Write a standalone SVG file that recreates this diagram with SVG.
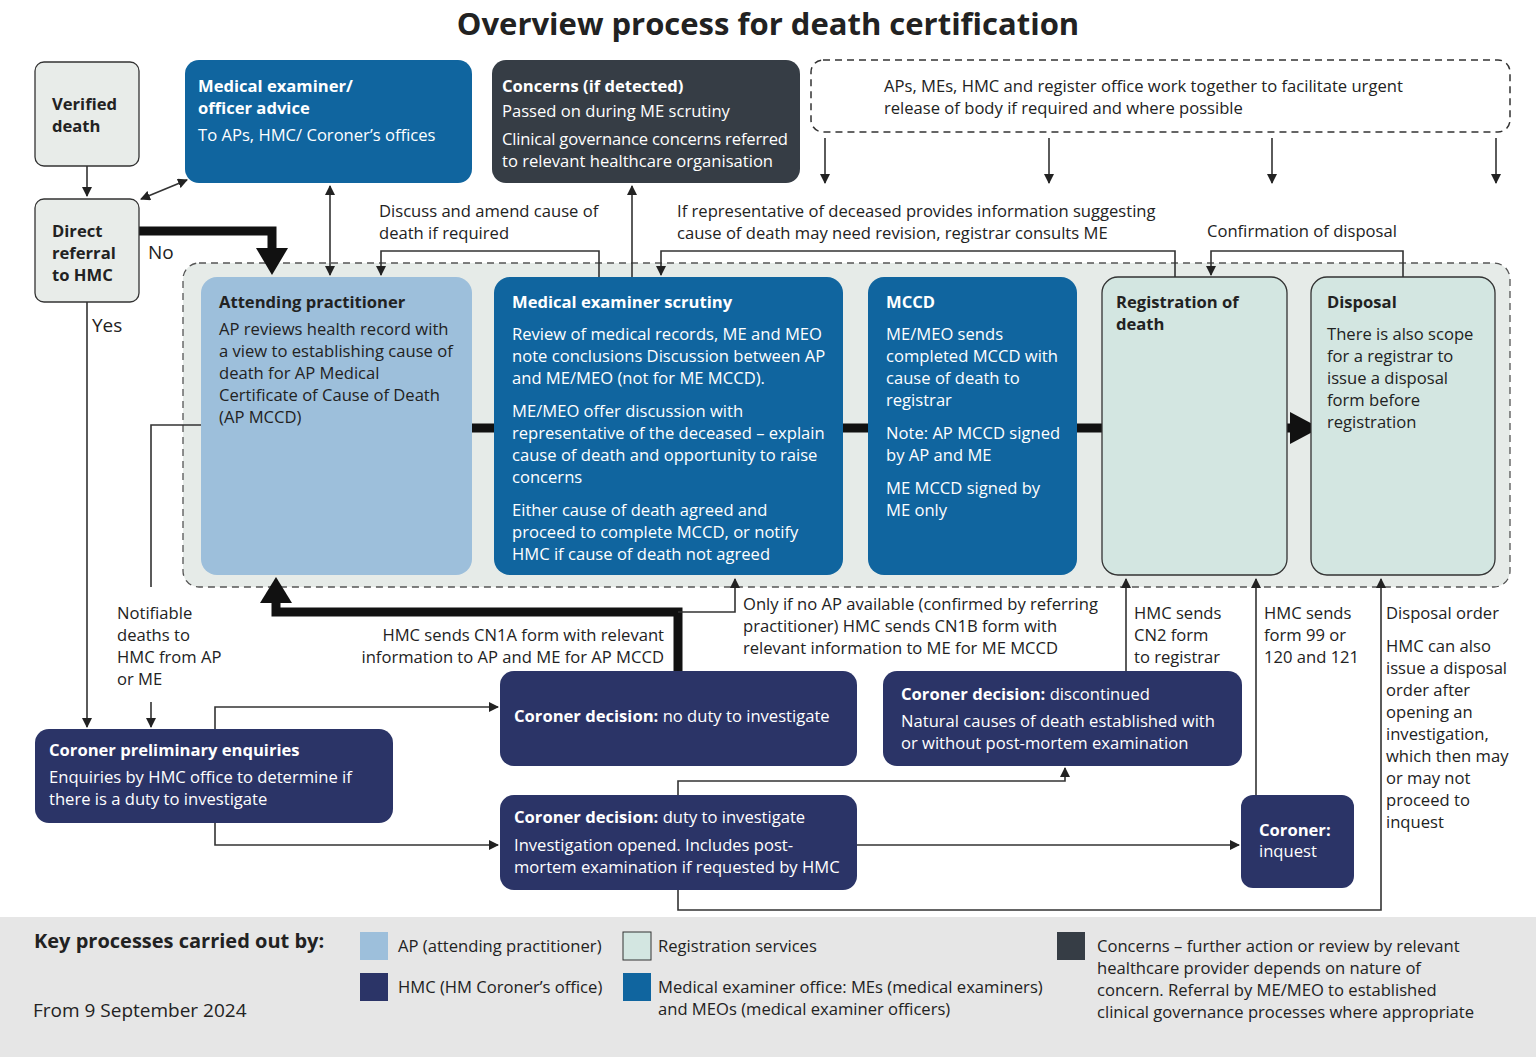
<svg xmlns="http://www.w3.org/2000/svg" width="1536" height="1057" viewBox="0 0 1536 1057">
<style>
text{font-family:"Open Sans","Liberation Sans",sans-serif;font-size:16.6px;fill:#222}
.b{font-weight:bold}
.w{fill:#fff}
.ln{fill:none;stroke:#333;stroke-width:1.6}
.tk{fill:none;stroke:#111;stroke-width:9}
</style>
<defs>
<marker id="a" markerWidth="10" markerHeight="10" refX="9" refY="5" orient="auto" markerUnits="userSpaceOnUse"><path d="M0,0L10,5L0,10z" fill="#222"/></marker>
<marker id="as" markerWidth="10" markerHeight="10" refX="1" refY="5" orient="auto" markerUnits="userSpaceOnUse"><path d="M10,0L0,5L10,10z" fill="#222"/></marker>
</defs>
<rect width="1536" height="1057" fill="#fff"/>
<text x="768" y="35" text-anchor="middle" class="b" style="font-size:31px">Overview process for death certification</text>
<rect x="183" y="263" width="1327" height="324" rx="16" fill="#e6ebe8" stroke="#555" stroke-width="1.3" stroke-dasharray="7 5"/>
<g id="connectors">
<path class="ln" d="M87,166V196" marker-end="url(#a)"/>
<path class="ln" d="M141,199L187,180" marker-end="url(#a)" marker-start="url(#as)"/>
<path class="ln" d="M330,186V275" marker-end="url(#a)" marker-start="url(#as)"/>
<path class="ln" d="M632,277V186" marker-end="url(#a)"/>
<path class="ln" d="M599,277V251H381V275" marker-end="url(#a)"/>
<path class="ln" d="M1175,277V251H661V275" marker-end="url(#a)"/>
<path class="ln" d="M1403,277V251H1211V275" marker-end="url(#a)"/>
<path class="ln" d="M825,138V183" marker-end="url(#a)"/>
<path class="ln" d="M1049,138V183" marker-end="url(#a)"/>
<path class="ln" d="M1272,138V183" marker-end="url(#a)"/>
<path class="ln" d="M1496,138V183" marker-end="url(#a)"/>
<path class="tk" d="M139,231H272V250"/>
<path d="M256,248H288L272,275z" fill="#111"/>
<path class="ln" d="M87,302V727" marker-end="url(#a)"/>
<path class="ln" d="M201,425H151V587"/>
<path class="ln" d="M151,702V727" marker-end="url(#a)"/>
<path class="tk" d="M678,671V612H276V600"/>
<path d="M260,603H292L276,577z" fill="#111"/>
<path class="ln" d="M678,612H735V579" marker-end="url(#a)"/>
<path class="tk" d="M472,428H494M843,428H868M1077,428H1102M1287,428H1292"/>
<path d="M1290,412L1320,428L1290,444z" fill="#111"/>
<path class="ln" d="M215,729V707H498" marker-end="url(#a)"/>
<path class="ln" d="M215,823V845H498" marker-end="url(#a)"/>
<path class="ln" d="M857,845H1239" marker-end="url(#a)"/>
<path class="ln" d="M678,795V781H1065V768" marker-end="url(#a)"/>
<path class="ln" d="M678,890V910H1381V579" marker-end="url(#a)"/>
<path class="ln" d="M1126,671V579" marker-end="url(#a)"/>
<path class="ln" d="M1256,795V579" marker-end="url(#a)"/>
</g>
<g id="labels">
<text x="379" y="217">Discuss and amend cause of</text><text x="379" y="239">death if required</text>
<text x="677" y="217">If representative of deceased provides information suggesting</text><text x="677" y="239">cause of death may need revision, registrar consults ME</text>
<text x="1207" y="237">Confirmation of disposal</text>
<text x="148" y="259" style="font-size:19px">No</text>
<text x="92" y="332" style="font-size:19px">Yes</text>
<text x="117" y="619">Notifiable</text><text x="117" y="641">deaths to</text><text x="117" y="663">HMC from AP</text><text x="117" y="685">or ME</text>
<text x="664" y="641" text-anchor="end">HMC sends CN1A form with relevant</text><text x="664" y="663" text-anchor="end">information to AP and ME for AP MCCD</text>
<text x="743" y="610">Only if no AP available (confirmed by referring</text><text x="743" y="632">practitioner) HMC sends CN1B form with</text><text x="743" y="654">relevant information to ME for ME MCCD</text>
<text x="1134" y="619">HMC sends</text><text x="1134" y="641">CN2 form</text><text x="1134" y="663">to registrar</text>
<text x="1264" y="619">HMC sends</text><text x="1264" y="641">form 99 or</text><text x="1264" y="663">120 and 121</text>
<text x="1386" y="619">Disposal order</text>
<text x="1386" y="652">HMC can also</text><text x="1386" y="674">issue a disposal</text><text x="1386" y="696">order after</text><text x="1386" y="718">opening an</text><text x="1386" y="740">investigation,</text><text x="1386" y="762">which then may</text><text x="1386" y="784">or may not</text><text x="1386" y="806">proceed to</text><text x="1386" y="828">inquest</text>
</g>
<g id="verified"><rect x="35" y="62" width="104" height="104" rx="9" fill="#e8ece9" stroke="#333" stroke-width="1.3"/><text x="52" y="110" class="b">Verified</text><text x="52" y="132" class="b">death</text></g>
<g id="direct"><rect x="35" y="199" width="104" height="103" rx="9" fill="#e8ece9" stroke="#333" stroke-width="1.3"/><text x="52" y="237" class="b">Direct</text><text x="52" y="259" class="b">referral</text><text x="52" y="281" class="b">to HMC</text></g>
<g id="meadvice"><rect x="185" y="60" width="287" height="123" rx="14" fill="#10659f"/><text x="198" y="92" class="b w">Medical examiner/</text><text x="198" y="114" class="b w">officer advice</text><text x="198" y="141" class="w">To APs, HMC/ Coroner’s offices</text></g>
<g id="concerns"><rect x="492" y="60" width="308" height="123" rx="14" fill="#363d45"/><text x="502" y="92" class="b w">Concerns (if detected)</text><text x="502" y="117" class="w">Passed on during ME scrutiny</text><text x="502" y="145" class="w" textLength="286">Clinical governance concerns referred</text><text x="502" y="167" class="w">to relevant healthcare organisation</text></g>
<g id="urgent"><rect x="811" y="60" width="699" height="72" rx="12" fill="#fff" stroke="#333" stroke-width="1.5" stroke-dasharray="7 5"/><text x="884" y="92">APs, MEs, HMC and register office work together to facilitate urgent</text><text x="884" y="114">release of body if required and where possible</text></g>
<g id="ap"><rect x="201" y="277" width="271" height="298" rx="16" fill="#9dbfdb"/><text x="219" y="308" class="b">Attending practitioner</text><text x="219" y="335">AP reviews health record with</text><text x="219" y="357">a view to establishing cause of</text><text x="219" y="379">death for AP Medical</text><text x="219" y="401">Certificate of Cause of Death</text><text x="219" y="423">(AP MCCD)</text></g>
<g id="mescrutiny"><rect x="494" y="277" width="349" height="298" rx="16" fill="#10659f"/><text x="512" y="308" class="b w">Medical examiner scrutiny</text><text x="512" y="340" class="w">Review of medical records, ME and MEO</text><text x="512" y="362" class="w">note conclusions Discussion between AP</text><text x="512" y="384" class="w">and ME/MEO (not for ME MCCD).</text><text x="512" y="417" class="w">ME/MEO offer discussion with</text><text x="512" y="439" class="w">representative of the deceased – explain</text><text x="512" y="461" class="w">cause of death and opportunity to raise</text><text x="512" y="483" class="w">concerns</text><text x="512" y="516" class="w">Either cause of death agreed and</text><text x="512" y="538" class="w">proceed to complete MCCD, or notify</text><text x="512" y="560" class="w">HMC if cause of death not agreed</text></g>
<g id="mccd"><rect x="868" y="277" width="209" height="298" rx="16" fill="#10659f"/><text x="886" y="308" class="b w">MCCD</text><text x="886" y="340" class="w">ME/MEO sends</text><text x="886" y="362" class="w">completed MCCD with</text><text x="886" y="384" class="w">cause of death to</text><text x="886" y="406" class="w">registrar</text><text x="886" y="439" class="w">Note: AP MCCD signed</text><text x="886" y="461" class="w">by AP and ME</text><text x="886" y="494" class="w">ME MCCD signed by</text><text x="886" y="516" class="w">ME only</text></g>
<g id="registration"><rect x="1102" y="277" width="185" height="298" rx="16" fill="#d3e6e1" stroke="#333" stroke-width="1.3"/><text x="1116" y="308" class="b">Registration of</text><text x="1116" y="330" class="b">death</text></g>
<g id="disposal"><rect x="1311" y="277" width="184" height="298" rx="16" fill="#d3e6e1" stroke="#333" stroke-width="1.3"/><text x="1327" y="308" class="b">Disposal</text><text x="1327" y="340">There is also scope</text><text x="1327" y="362">for a registrar to</text><text x="1327" y="384">issue a disposal</text><text x="1327" y="406">form before</text><text x="1327" y="428">registration</text></g>
<g id="prelim"><rect x="35" y="729" width="358" height="94" rx="14" fill="#2b3467"/><text x="49" y="756" class="b w">Coroner preliminary enquiries</text><text x="49" y="783" class="w">Enquiries by HMC office to determine if</text><text x="49" y="805" class="w">there is a duty to investigate</text></g>
<g id="noduty"><rect x="500" y="671" width="357" height="95" rx="14" fill="#2b3467"/><text x="514" y="722" class="w"><tspan class="b">Coroner decision:</tspan> no duty to investigate</text></g>
<g id="discontinued"><rect x="883" y="671" width="359" height="95" rx="14" fill="#2b3467"/><text x="901" y="700" class="w"><tspan class="b">Coroner decision:</tspan> discontinued</text><text x="901" y="727" class="w">Natural causes of death established with</text><text x="901" y="749" class="w">or without post-mortem examination</text></g>
<g id="duty"><rect x="500" y="795" width="357" height="95" rx="14" fill="#2b3467"/><text x="514" y="823" class="w"><tspan class="b">Coroner decision:</tspan> duty to investigate</text><text x="514" y="851" class="w">Investigation opened. Includes post-</text><text x="514" y="873" class="w">mortem examination if requested by HMC</text></g>
<g id="inquest"><rect x="1241" y="795" width="113" height="93" rx="12" fill="#2b3467"/><text x="1259" y="836" class="b w">Coroner:</text><text x="1259" y="857" class="w">inquest</text></g>
<g id="key">
<rect x="0" y="917" width="1536" height="140" fill="#e6e6e6"/>
<text x="34" y="948" class="b" style="font-size:20px">Key processes carried out by:</text>
<text x="33" y="1017" style="font-size:19px">From 9 September 2024</text>
<rect x="360" y="932" width="28" height="28" fill="#9dbfdb"/><text x="398" y="952">AP (attending practitioner)</text>
<rect x="623" y="932" width="28" height="28" fill="#d3e6e1" stroke="#333"/><text x="658" y="952">Registration services</text>
<rect x="360" y="973" width="28" height="28" fill="#2b3467"/><text x="398" y="993">HMC (HM Coroner’s office)</text>
<rect x="623" y="973" width="28" height="28" fill="#10659f"/><text x="658" y="993">Medical examiner office: MEs (medical examiners)</text><text x="658" y="1015">and MEOs (medical examiner officers)</text>
<rect x="1057" y="932" width="28" height="28" fill="#363d45"/><text x="1097" y="952">Concerns – further action or review by relevant</text><text x="1097" y="974">healthcare provider depends on nature of</text><text x="1097" y="996">concern. Referral by ME/MEO to established</text><text x="1097" y="1018">clinical governance processes where appropriate</text>
</g>
</svg>
